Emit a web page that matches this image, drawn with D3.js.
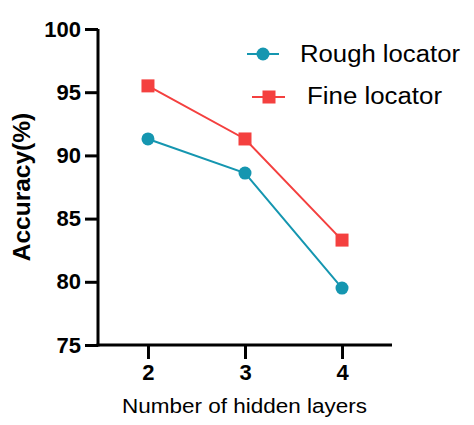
<!DOCTYPE html>
<html><head><meta charset="utf-8">
<script src="https://cdn.jsdelivr.net/npm/d3@7"></script>
<style>body{margin:0;background:#fff}svg{display:block}text{font-family:Arial,"Liberation Sans",Helvetica,sans-serif}</style>
</head><body><svg id="c" width="474" height="425"></svg>
<script>
const layers = [2, 3, 4];
const roughValues = [91.3, 88.6, 79.5];
const fineValues = [95.5, 91.3, 83.3];
const yTicks = [75, 80, 85, 90, 95, 100];
const seriesNames = ["Rough locator", "Fine locator"];

const svg = d3.select("#c");
const x = d3.scaleLinear().domain([1.485, 4.515]).range([98, 392]);
const y = d3.scaleLinear().domain([75, 100]).range([345, 29]);

const teal = "#1596b0", red = "#f4403f";

// axes
const yAxis = svg.append("g").attr("transform", "translate(98,0)")
  .call(d3.axisLeft(y).tickValues(yTicks).tickSize(13).tickPadding(4));
yAxis.select(".domain").attr("stroke", "#000").attr("stroke-width", 3).attr("d", `M0,${y(100)}V${y(75)+1.5}`);
yAxis.selectAll(".tick line").attr("stroke-width", 3);
yAxis.selectAll("text").attr("font-size", 22).attr("font-weight", "bold").attr("fill", "#000");

const xAxis = svg.append("g").attr("transform", "translate(0,345)")
  .call(d3.axisBottom(x).tickValues(layers).tickFormat(d3.format("d")).tickSize(14).tickPadding(5));
xAxis.select(".domain").attr("stroke", "#000").attr("stroke-width", 3).attr("d", `M${98-1.5},0H392`);
xAxis.selectAll(".tick line").attr("stroke-width", 3);
xAxis.selectAll("text").attr("font-size", 22).attr("font-weight", "bold").attr("fill", "#000");

svg.append("text").attr("x", 122).attr("y", 413)
  .attr("font-size", 20).attr("textLength", 245).attr("lengthAdjust", "spacingAndGlyphs").text("Number of hidden layers");
svg.append("text").attr("transform", "translate(30,187) rotate(-90)").attr("text-anchor", "middle")
  .attr("font-size", 24.5).attr("font-weight", "bold").text("Accuracy(%)");

const line = d3.line().x((d,i) => x(layers[i])).y(d => y(d));
svg.append("path").datum(roughValues).attr("d", line).attr("fill", "none").attr("stroke", teal).attr("stroke-width", 2);
svg.append("path").datum(fineValues).attr("d", line).attr("fill", "none").attr("stroke", red).attr("stroke-width", 2);

svg.selectAll(".rp").data(roughValues).join("circle")
  .attr("cx", (d,i) => x(layers[i])).attr("cy", d => y(d)).attr("r", 6.5).attr("fill", teal);
svg.selectAll(".fp").data(fineValues).join("rect")
  .attr("x", (d,i) => x(layers[i]) - 6.5).attr("y", d => y(d) - 6.5)
  .attr("width", 13).attr("height", 13).attr("fill", red);

// legend
const lg = svg.append("g");
lg.append("line").attr("x1", 247).attr("x2", 279).attr("y1", 54).attr("y2", 54).attr("stroke", teal).attr("stroke-width", 2);
lg.append("circle").attr("cx", 263).attr("cy", 54).attr("r", 6.5).attr("fill", teal);
lg.append("text").attr("x", 300).attr("y", 62).attr("font-size", 23.5)
  .attr("textLength", 160).attr("lengthAdjust", "spacingAndGlyphs").text(seriesNames[0]);
lg.append("line").attr("x1", 252).attr("x2", 285).attr("y1", 97).attr("y2", 97).attr("stroke", red).attr("stroke-width", 2);
lg.append("rect").attr("x", 269 - 6.5).attr("y", 97 - 6.5).attr("width", 13).attr("height", 13).attr("fill", red);
lg.append("text").attr("x", 307).attr("y", 104).attr("font-size", 23.5)
  .attr("textLength", 135).attr("lengthAdjust", "spacingAndGlyphs").text(seriesNames[1]);
</script></body></html>
